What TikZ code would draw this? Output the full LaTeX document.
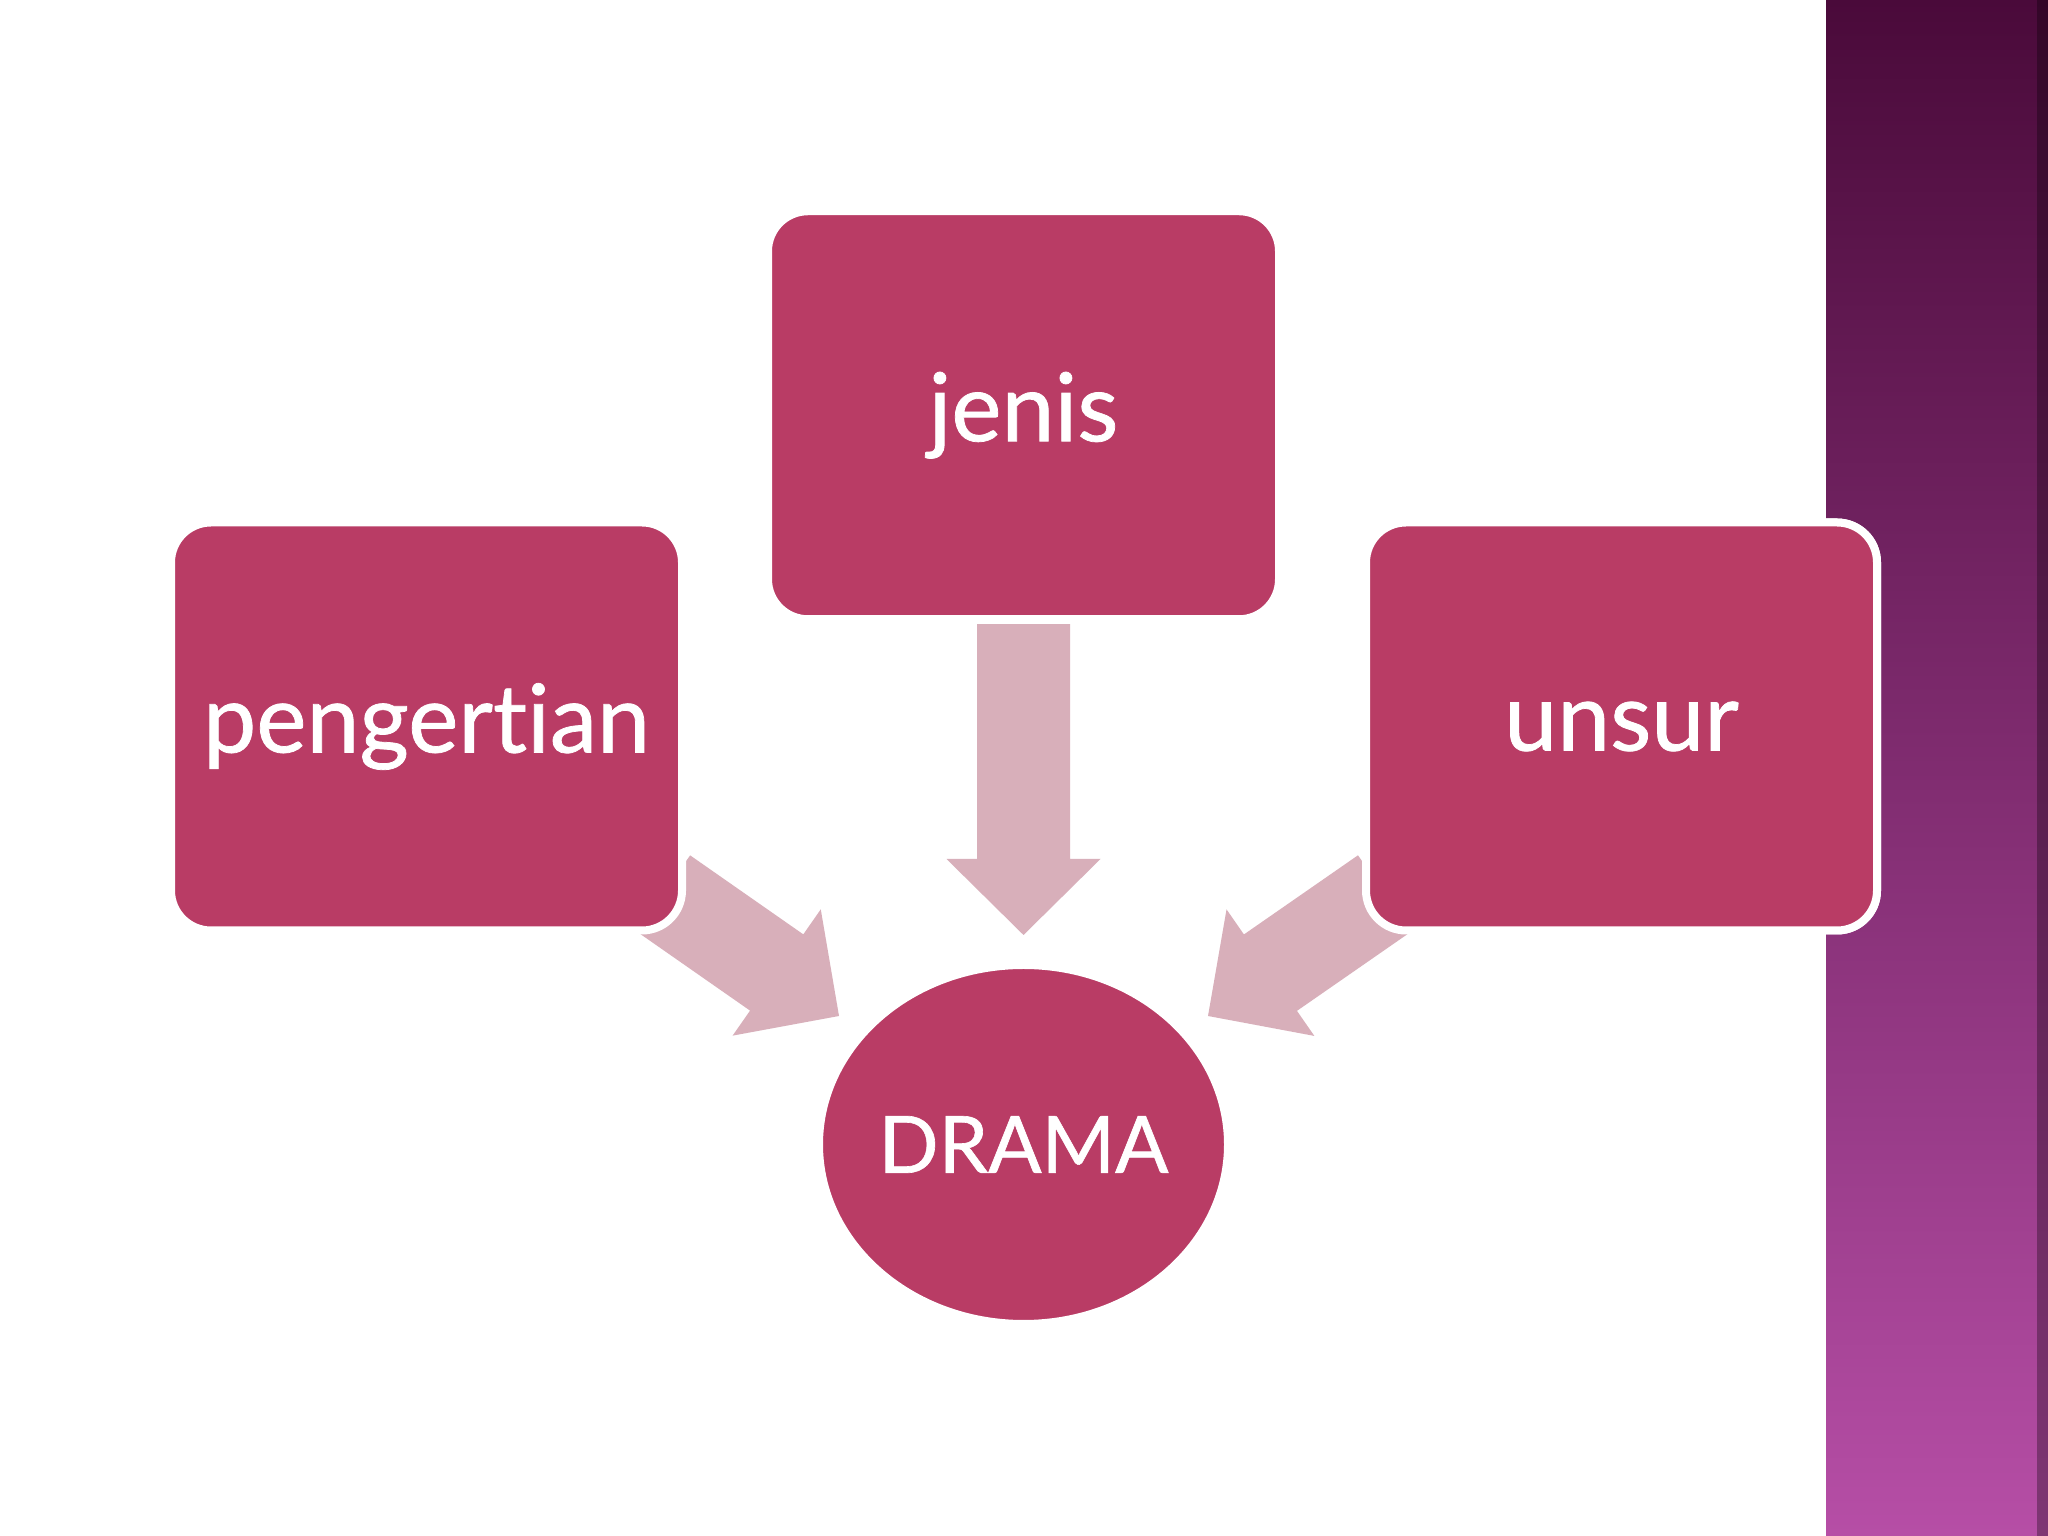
\documentclass[tikz,border=0pt]{standalone}
\usepackage{fontspec}
\setmainfont[Ligatures=NoCommon, FakeBold=0.8]{Lato}
\usepackage{tikz}
\usetikzlibrary{shapes.geometric, calc}
\definecolor{boxpink}{RGB}{185,60,101}
\definecolor{arrowpink}{RGB}{216,175,186}
\definecolor{bartop}{RGB}{74,10,58}
\definecolor{barmid}{RGB}{128,48,114}
\definecolor{barbot}{RGB}{182,78,166}
\tikzset{
  topic/.style={rectangle, draw=white, fill=boxpink, line width=8pt,
    minimum width=511pt, minimum height=408pt, rounded corners=40pt,
    inner sep=0pt, text=white, font=\fontsize{95}{110}\selectfont},
  hub/.style={ellipse, draw=white, fill=boxpink, line width=8pt,
    minimum width=409pt, minimum height=359pt, inner sep=0pt,
    text=white, font=\fontsize{79}{95}\selectfont},
  fatarrow/.style={fill=arrowpink}
}

\begin{document}
\begin{tikzpicture}[x=1pt, y=1pt]

\useasboundingbox (0,0) rectangle (2048,1536);
\fill[white] (0,0) rectangle (2048,1536);

%--- side bar (right) ---
\shade[top color=bartop, middle color=barmid, bottom color=barbot]
  (1826,0) rectangle (2048,1536);
\fill[black, opacity=0.3] (2037,0) rectangle (2048,1536);

%--- nodes ---
\node[topic] (pengertian) at (426.5, 809.5) {pengertian};
\node[topic] (jenis)      at (1023.5, 1120.75) {jenis};
\node[topic] (unsur)      at (1621.5, 809.5) {unsur};
\node[hub]   (drama)      at (1023.5, 391.5) {\makebox[0pt]{DRAMA}};

% arrow ends
\coordinate (pt) at ($(pengertian.south east)+(-22.5,41)$);
\coordinate (pp) at ($(drama.center)+(-184.5,128.5)$);
\coordinate (jt) at ([yshift=-1pt]jenis.south);
\coordinate (jp) at ([yshift=26pt]drama.north);
\coordinate (ut) at ($(unsur.south west)+(22.5,41)$);
\coordinate (up) at ($(drama.center)+(184.5,128.5)$);

%--- block arrows (under the boxes) ---
\foreach \a/\b in {pt/pp, jt/jp, ut/up} {
  \coordinate (h) at ($(\b)!76pt!(\a)$);
  \fill[fatarrow] ($(\a)!46.5pt!90:(\b)$) -- ($(h)!46.5pt!90:(\b)$)
    -- ($(h)!77pt!90:(\b)$) -- (\b) -- ($(h)!77pt!-90:(\b)$)
    -- ($(h)!46.5pt!-90:(\b)$) -- ($(\a)!46.5pt!-90:(\b)$) -- cycle;
}

% boxes again, on top of the arrows
\node[topic] at (pengertian) {pengertian};
\node[topic] at (jenis) {jenis};
\node[topic] at (unsur) {unsur};
\node[hub] at (drama) {\makebox[0pt]{DRAMA}};
\end{tikzpicture}
\end{document}
